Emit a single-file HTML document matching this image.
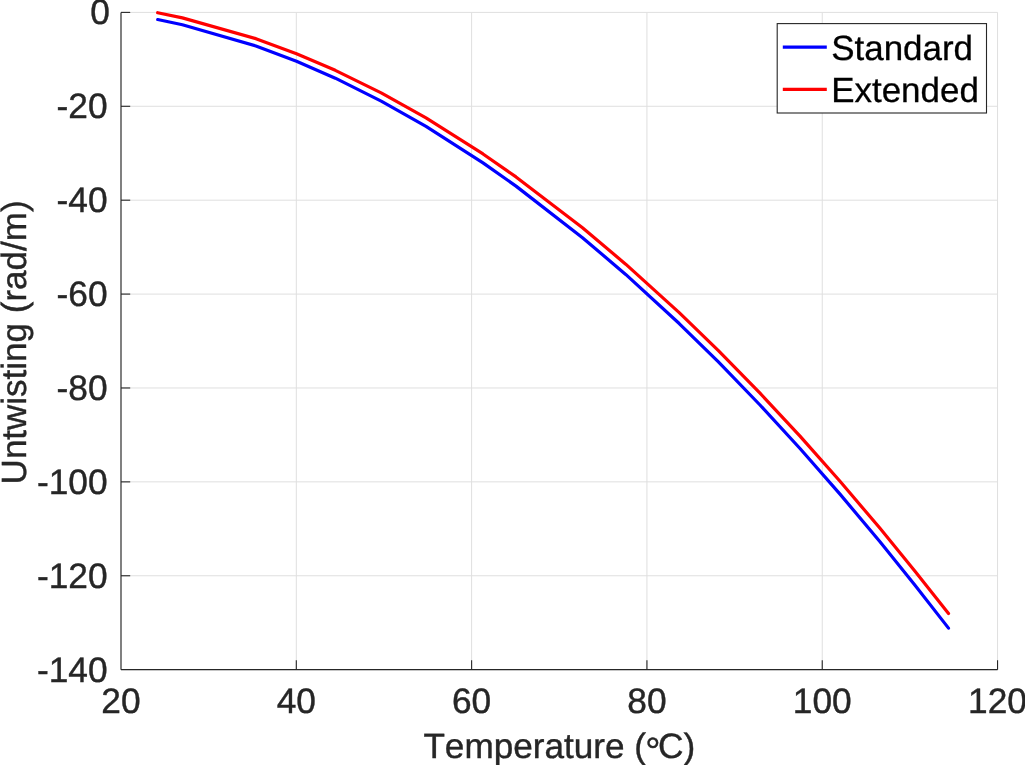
<!DOCTYPE html>
<html lang="en"><head><meta charset="utf-8"><title>Untwisting vs Temperature</title>
<style>html,body{margin:0;padding:0;background:#fff;overflow:hidden}svg{display:block}</style></head>
<body>
<svg width="1025" height="765" viewBox="0 0 1025 765">
<rect width="1025" height="765" fill="#fff"/>
<g stroke="#dfdfdf" stroke-width="1"><line x1="121.00" y1="12.4" x2="121.00" y2="669.65"/><line x1="296.31" y1="12.4" x2="296.31" y2="669.65"/><line x1="471.62" y1="12.4" x2="471.62" y2="669.65"/><line x1="646.93" y1="12.4" x2="646.93" y2="669.65"/><line x1="822.24" y1="12.4" x2="822.24" y2="669.65"/><line x1="997.55" y1="12.4" x2="997.55" y2="669.65"/><line x1="121.0" y1="12.40" x2="997.55" y2="12.40"/><line x1="121.0" y1="106.29" x2="997.55" y2="106.29"/><line x1="121.0" y1="200.19" x2="997.55" y2="200.19"/><line x1="121.0" y1="294.08" x2="997.55" y2="294.08"/><line x1="121.0" y1="387.97" x2="997.55" y2="387.97"/><line x1="121.0" y1="481.86" x2="997.55" y2="481.86"/><line x1="121.0" y1="575.76" x2="997.55" y2="575.76"/><line x1="121.0" y1="669.65" x2="997.55" y2="669.65"/></g>
<polyline fill="none" stroke="#0000ff" stroke-width="3.2" stroke-linejoin="round" stroke-linecap="round" points="157.7,19.55 182.4,24.79 255.9,46.00 296.5,61.26 335.3,78.17 381.2,101.07 426.0,126.42 483.0,162.89 516.0,186.13 582.5,237.66 625.7,274.43 679.2,323.53 718.4,361.96 760.0,404.99 800.0,448.51 840.0,494.12 880.0,541.79 915.0,585.17 948.5,628.13"/>
<polyline fill="none" stroke="#ff0000" stroke-width="3.2" stroke-linejoin="round" stroke-linecap="round" points="157.7,12.70 182.4,17.84 255.9,38.66 296.5,53.68 335.3,70.34 381.2,92.93 426.0,117.95 483.0,153.96 516.0,176.93 582.5,227.83 625.7,264.17 679.2,312.68 718.4,350.66 760.0,393.18 800.0,436.18 840.0,481.24 880.0,528.33 915.0,571.18 948.5,613.60"/>
<g stroke="#262626" stroke-width="1.1"><line x1="121.0" y1="12.4" x2="121.0" y2="669.65"/><line x1="121.0" y1="669.65" x2="997.55" y2="669.65"/><line x1="296.31" y1="669.65" x2="296.31" y2="660.35"/><line x1="471.62" y1="669.65" x2="471.62" y2="660.35"/><line x1="646.93" y1="669.65" x2="646.93" y2="660.35"/><line x1="822.24" y1="669.65" x2="822.24" y2="660.35"/><line x1="997.55" y1="669.65" x2="997.55" y2="660.35"/><line x1="121.0" y1="12.40" x2="130.2" y2="12.40"/><line x1="121.0" y1="106.29" x2="130.2" y2="106.29"/><line x1="121.0" y1="200.19" x2="130.2" y2="200.19"/><line x1="121.0" y1="294.08" x2="130.2" y2="294.08"/><line x1="121.0" y1="387.97" x2="130.2" y2="387.97"/><line x1="121.0" y1="481.86" x2="130.2" y2="481.86"/><line x1="121.0" y1="575.76" x2="130.2" y2="575.76"/></g>
<g font-family="'Liberation Sans', Arial, Helvetica, sans-serif" fill="#262626" stroke="#262626" stroke-width="0.4" style="font-kerning:none;text-rendering:geometricPrecision"><text x="101.37" y="712.90" font-size="35.3">20</text><text x="276.68" y="712.90" font-size="35.3">40</text><text x="451.99" y="712.90" font-size="35.3">60</text><text x="627.30" y="712.90" font-size="35.3">80</text><text x="792.79" y="712.90" font-size="35.3">100</text><text x="968.10" y="712.90" font-size="35.3">120</text><text x="90.17" y="24.40" font-size="35.3">0</text><text x="56.58" y="118.29" font-size="35.3">-20</text><text x="56.58" y="212.19" font-size="35.3">-40</text><text x="56.58" y="306.08" font-size="35.3">-60</text><text x="56.58" y="399.97" font-size="35.3">-80</text><text x="36.95" y="493.86" font-size="35.3">-100</text><text x="36.95" y="587.76" font-size="35.3">-120</text><text x="36.95" y="681.65" font-size="35.3">-140</text><text x="423.40" y="757.90" font-size="35.15">Temperature (<tspan x="645.3" dy="6.2" font-size="38">&#176;</tspan><tspan x="658.0" dy="-6.2" font-size="35.3">C)</tspan></text><g transform="translate(25.6,484.4) rotate(-90)"><text x="0.00" y="0.00" font-size="35.0">Untwisting (rad/m)</text></g></g>
<rect x="777.2" y="23.6" width="209.3" height="89.4" fill="#fff" stroke="#262626" stroke-width="1.1"/>
<line x1="782.8" y1="47.2" x2="826.8" y2="47.2" stroke="#0000ff" stroke-width="3.2"/>
<line x1="782.8" y1="89.4" x2="826.8" y2="89.4" stroke="#ff0000" stroke-width="3.2"/>
<g font-family="'Liberation Sans', Arial, Helvetica, sans-serif" fill="#000" stroke="#000" stroke-width="0.3" style="font-kerning:none;text-rendering:geometricPrecision"><text x="831.20" y="59.90" font-size="34.95">Standard</text><text x="831.20" y="102.00" font-size="34.95">Extended</text></g>
</svg>
</body></html>
